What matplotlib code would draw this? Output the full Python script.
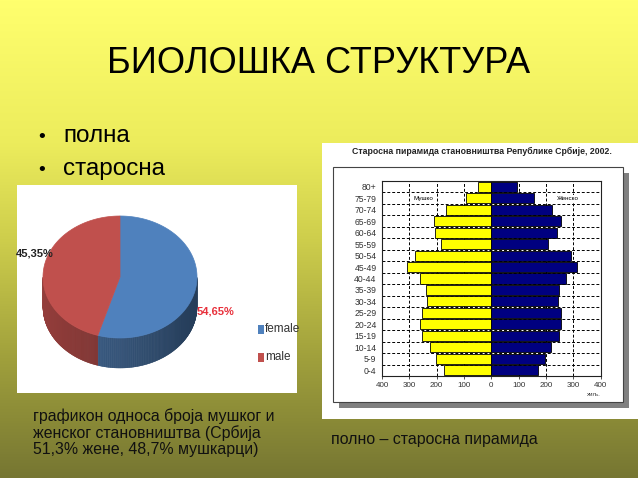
import numpy as np
import matplotlib
matplotlib.use("Agg")
import matplotlib.pyplot as plt
from matplotlib import font_manager
from matplotlib.patches import Rectangle, Polygon

# --- data -------------------------------------------------------------
age_groups = ["0-4", "5-9", "10-14", "15-19", "20-24", "25-29", "30-34",
              "35-39", "40-44", "45-49", "50-54", "55-59", "60-64",
              "65-69", "70-74", "75-79", "80+"]
male = [175, 203, 224, 252, 262, 252, 236, 239, 262, 307, 280, 186, 205,
        208, 166, 93, 50]
female = [169, 197, 217, 246, 253, 253, 242, 248, 272, 314, 292, 207, 239,
          253, 223, 157, 93]
x_ticks = [-400, -300, -200, -100, 0, 100, 200, 300, 400]

pie_names = ["female", "male"]
pie_shares = [54.65, 45.35]
pie_texts = ["54,65%", "45,35%"]

title = "БИОЛОШКА СТРУКТУРА"
bullets = ["полна", "старосна"]
pyramid_title = "Старосна пирамида становништва Републике Србије, 2002."
left_caption = ["графикон односа броја мушког и",
                "женског становништва (Србија",
                "51,3% жене, 48,7% мушкарци)"]
right_caption = "полно – старосна пирамида"

# --- fonts --------------------------------------------------------------
installed = {f.name for f in font_manager.fontManager.ttflist}
SANS = "Liberation Sans"
NARROW = "Liberation Sans Narrow" if "Liberation Sans Narrow" in installed else "Liberation Sans"
plt.rcParams["font.family"] = [SANS, "DejaVu Sans"]

W, H = 638, 478
fig = plt.figure(figsize=(W / 100, H / 100), dpi=100)

# canvas in pixel coordinates (y down)
cv = fig.add_axes([0, 0, 1, 1], zorder=0)
cv.set_xlim(0, W)
cv.set_ylim(H, 0)
cv.axis("off")

# background gradient
stops = np.array([0.0, 0.3, 0.5, 0.75, 1.0])
cols = np.array([[255, 255, 110], [236, 236, 92], [206, 206, 76],
                 [160, 160, 60], [118, 118, 50]]) / 255.0
t = np.linspace(0, 1, 300)
grad = np.stack([np.interp(t, stops, cols[:, i]) for i in range(3)], axis=-1)
cv.imshow(grad[:, None, :], extent=[0, W, H, 0], aspect="auto", zorder=0)

# title and bullets
cv.text(318.5, 73, title, fontsize=26, ha="center", va="baseline", color="black")
for yb, b in zip([142, 175], bullets):
    cv.text(38, yb, "•", fontsize=14, ha="left", va="baseline")
    cv.text(63, yb, b, fontsize=17.5, ha="left", va="baseline")

# captions
for yb, line in zip([421, 437.7, 454], left_caption):
    cv.text(33, yb, line, fontsize=11.4, ha="left", va="baseline", color="#111111")
cv.text(331, 444, right_caption, fontsize=11.4, ha="left", va="baseline", color="#111111")

# --- 3D pie -------------------------------------------------------------
cv.add_patch(Rectangle((17, 185), 280, 208, facecolor="white", edgecolor="none", zorder=1))
cx, cy, a, b, depth = 120, 277, 77, 61, 30
pie_colors = {"female": np.array([79, 129, 189]) / 255, "male": np.array([192, 80, 77]) / 255}

shares = np.array(pie_shares) / sum(pie_shares)
start = 90.0
wedges = []
for name, s in zip(pie_names, shares):
    end = start - s * 360.0
    wedges.append((name, end, start))
    start = end


def pt(theta):
    th = np.deg2rad(theta)
    return cx + a * np.cos(th), cy - b * np.sin(th)


# side walls (front half only)
for name, lo, hi in wedges:
    angles = np.linspace(lo, hi, 400)
    for th0, th1 in zip(angles[:-1], angles[1:]):
        tm = ((0.5 * (th0 + th1) + 180) % 360) - 180
        if not (-180 <= tm <= 0):
            continue
        f = 0.62 + 0.15 * (-np.cos(np.deg2rad(tm)))
        c = np.clip(pie_colors[name] * f, 0, 1)
        x0, y0 = pt(th0)
        x1, y1 = pt(th1)
        cv.add_patch(Polygon([(x0, y0), (x1, y1), (x1, y1 + depth), (x0, y0 + depth)],
                             closed=True, facecolor=c, edgecolor=c, lw=0.3, zorder=2))

# top faces
for name, lo, hi in wedges:
    angles = np.linspace(lo, hi, 200)
    pts = [(cx, cy)] + [pt(th) for th in angles]
    cv.add_patch(Polygon(pts, closed=True, facecolor=pie_colors[name],
                         edgecolor=pie_colors[name], lw=0.5, zorder=3))

cv.text(197, 312, pie_texts[0], fontsize=8, fontweight="bold", color="#e8303b",
        ha="left", va="center", family=NARROW, zorder=4)
cv.text(16, 253, pie_texts[1], fontsize=8, fontweight="bold", color="#222222",
        ha="left", va="center", family=NARROW, zorder=4)
for yc, name in zip([329, 357], pie_names):
    cv.add_patch(Rectangle((258, yc - 4.5), 6, 9, facecolor=pie_colors[name],
                           edgecolor="none", zorder=4))
    cv.text(265, yc, name, fontsize=8.5, color="#333333", ha="left", va="center",
            family=NARROW, zorder=4)

# --- population pyramid ------------------------------------------------
cv.add_patch(Rectangle((322, 143), 316, 276, facecolor="white", edgecolor="none", zorder=1))
cv.add_patch(Rectangle((339, 173), 290, 235, facecolor="#808080", edgecolor="none", zorder=1))
cv.add_patch(Rectangle((333, 167), 290, 235, facecolor="white", edgecolor="#444444",
                       lw=0.8, zorder=2))
cv.text(482, 151, pyramid_title, fontsize=6.3, fontweight="bold", color="#222222",
        ha="center", va="center", zorder=3)
cv.text(594, 394, "хиљ.", fontsize=4.5, color="#333333", ha="center", va="center", zorder=3)

px = fig.add_axes([382 / W, 1 - 376 / H, 218.7 / W, 195 / H], zorder=2)
y = np.arange(len(age_groups))
px.barh(y, [-v for v in male], height=0.88, color="#ffff00", edgecolor="black",
        lw=0.6, zorder=3)
px.barh(y, female, height=0.88, color="#000080", edgecolor="black", lw=0.6, zorder=3)
px.set_xlim(-400, 400)
px.set_ylim(-0.5, len(age_groups) - 0.5)
for xv in [-300, -200, -100, 100, 200, 300]:
    px.axvline(xv, color="black", ls=(0, (3, 2)), lw=0.7, zorder=1)
for yv in y[:-1]:
    px.axhline(yv + 0.5, color="black", ls=(0, (3, 2)), lw=0.7, zorder=1)
px.set_xticks(x_ticks)
px.set_xticklabels([str(abs(v)) for v in x_ticks])
px.set_yticks(y)
px.set_yticklabels(age_groups)
px.tick_params(axis="x", labelsize=5.8, length=2, width=0.6, pad=2, colors="#333333")
px.tick_params(axis="y", labelsize=6.2, length=0, pad=4, colors="#333333")
for sp in px.spines.values():
    sp.set_linewidth(0.8)
    sp.set_color("#222222")
box = dict(facecolor="white", edgecolor="none", pad=0.6)
px.text(-248, 15, "Мушко", fontsize=4.5, ha="center", va="center", bbox=box, zorder=4)
px.text(280, 15, "Женско", fontsize=4.5, ha="center", va="center", bbox=box, zorder=4)

fig.savefig("out.png", dpi=100)
